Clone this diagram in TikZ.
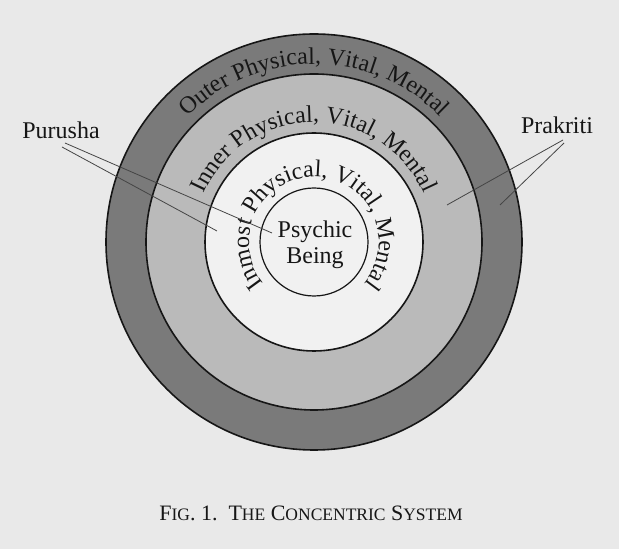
\documentclass[tikz,border=0pt]{standalone}
\usepackage{fontspec}
\setmainfont{Liberation Serif}
\usetikzlibrary{decorations.text}
\definecolor{bgpage}{RGB}{233,233,233}
\definecolor{ringdark}{RGB}{122,122,122}
\definecolor{ringlight}{RGB}{186,186,186}
\definecolor{ringwhite}{RGB}{241,241,241}
\definecolor{inkline}{RGB}{22,22,22}
\newcommand{\labfont}{\fontsize{24}{26}\selectfont}
\newcommand{\capfont}{\fontsize{22}{25}\selectfont}
\newcommand{\scfont}{\fontsize{17.5}{20}\selectfont}
\begin{document}
\begin{tikzpicture}[x=1pt,y=1pt,
  ring/.style={draw=inkline, line width=1.6pt},
  leader/.style={draw=inkline!80, line width=0.8pt},
  lab/.style={font=\labfont, text=inkline, inner sep=0pt},
  ringtext/.style={decorate, decoration={text along path, text align=center, text color=inkline, text={#1}}}
]
\useasboundingbox (0,0) rectangle (619,549);
\fill[bgpage] (0,0) rectangle (619,549);

\coordinate (C) at (314,307);

% rings
\filldraw[ring, fill=ringdark] (C) circle[radius=208];
\filldraw[ring, fill=ringlight] (C) circle[radius=168];
\filldraw[ring, fill=ringwhite] (C) circle[radius=109];
\draw[ring, line width=1.2pt] (C) circle[radius=54];

% ring texts
\path[ringtext={|\labfont|Outer Physical, Vital, Mental}, shift={(314,307)}]
  (175:178pt) arc[start angle=175, end angle=5, radius=178pt];
\path[ringtext={|\labfont|Inner Physical, Vital, Mental}, shift={(314,307)}]
  (178:120pt) arc[start angle=178, end angle=2, radius=120pt];
\path[ringtext={|\labfont|Inmost Physical, Vital, Mental}, shift={(314,307)}]
  (260:65pt) arc[start angle=260, end angle=-80, radius=65pt];

% labels
\node[lab, align=center] (psychic) at (315,304) {Psychic\\Being};
\node[lab] (purusha) at (61,419) {Purusha};
\node[lab] (prakriti) at (557,424) {Prakriti};

% leader lines
\coordinate (pu1) at (65,406);
\coordinate (pu2) at (62,402);
\coordinate (puend1) at (272,316);
\coordinate (puend2) at (217,318);
\draw[leader] (pu1) -- (puend1);
\draw[leader] (pu2) -- (puend2);

\coordinate (pr1) at (563,409);
\coordinate (pr2) at (564,406);
\coordinate (prend1) at (447,344);
\coordinate (prend2) at (500,344);
\draw[leader] (pr1) -- (prend1);
\draw[leader] (pr2) -- (prend2);

% caption
\node[lab, font=\capfont] (caption) at (311,35.5) {F{\scfont IG}. 1.\ \ T{\scfont HE} C{\scfont ONCENTRIC} S{\scfont YSTEM}};
\end{tikzpicture}
\end{document}
